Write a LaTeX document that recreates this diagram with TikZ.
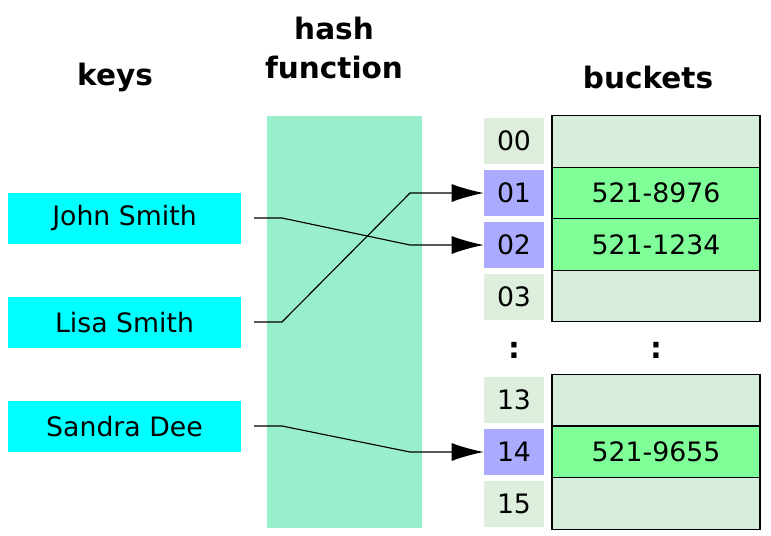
\documentclass[tikz,border=0pt]{standalone}
\usepackage{fontspec}
\setmainfont{DejaVu Sans}
\usetikzlibrary{arrows.meta}
\definecolor{keycol}{HTML}{00FFFF}
\definecolor{hashcol}{HTML}{99EECC}
\definecolor{idxcol}{HTML}{DDEEDD}
\definecolor{hitcol}{HTML}{AAAAFF}
\definecolor{bktcol}{HTML}{D8EEDD}
\definecolor{fullcol}{HTML}{80FF99}
\tikzset{
  key/.style={fill=keycol, minimum width=5.825cm, minimum height=1.275cm, inner sep=0pt, font=\fontsize{19}{22}\selectfont},
  idx/.style={fill=idxcol, minimum width=1.5cm, minimum height=1.15cm, inner sep=0pt, font=\fontsize{19}{22}\selectfont},
  bkt/.style={draw, thick, fill=bktcol, minimum width=5.2cm, minimum height=1.29cm, inner sep=0pt, font=\fontsize{19}{22}\selectfont},
  head/.style={font=\bfseries\fontsize{21}{28}\selectfont, align=center},
  link/.style={thick, -{Latex[length=0.8cm,width=0.45cm]}}
}
\begin{document}
\begin{tikzpicture}[x=0.025cm, y=-0.025cm]
  \useasboundingbox (0,0) rectangle (771,535);
  % headers
  \node[head] (hk) at (115,77) {keys};
  \node[head] (hf) at (334,48) {hash\\function};
  \node[head] (hb) at (648,77) {buckets};
  % hash function block
  \fill[hashcol] (267,116) rectangle (422,528);
  % keys
  \node[key] (k1) at (124.5,218.5) {John Smith};
  \node[key] (k2) at (124.5,322.5) {Lisa Smith};
  \node[key] (k3) at (124.5,426.5) {Sandra Dee};
  % indices
  \node[idx] (i00) at (514,141) {00};
  \node[idx, fill=hitcol] (i01) at (514,193) {01};
  \node[idx, fill=hitcol] (i02) at (514,245) {02};
  \node[idx] (i03) at (514,297) {03};
  \node[font=\bfseries\fontsize{21}{22}\selectfont] (d1) at (514,350) {:};
  \node[idx] (i13) at (514,400) {13};
  \node[idx, fill=hitcol] (i14) at (514,452) {14};
  \node[idx] (i15) at (514,504) {15};
  % buckets
  \node[bkt] (b00) at (656,141.5) {};
  \node[bkt, fill=fullcol] (b01) at (656,193) {521-8976};
  \node[bkt, fill=fullcol] (b02) at (656,244.5) {521-1234};
  \node[bkt] (b03) at (656,296) {};
  \node[font=\bfseries\fontsize{21}{22}\selectfont] (d2) at (656,350) {:};
  \node[bkt] (b13) at (656,400) {};
  \node[bkt, fill=fullcol] (b14) at (656,452) {521-9655};
  \node[bkt] (b15) at (656,503.5) {};
  % hash paths
  \coordinate (s1) at (254,218); \coordinate (s2) at (254,322); \coordinate (s3) at (254,426);
  \draw[link] (s1) -- (282,218) -- (410,245) -- (i02.west);
  \draw[link] (s2) -- (282,322) -- (410,193) -- (i01.west);
  \draw[link] (s3) -- (282,426) -- (410,452) -- (i14.west);
\end{tikzpicture}
\end{document}
